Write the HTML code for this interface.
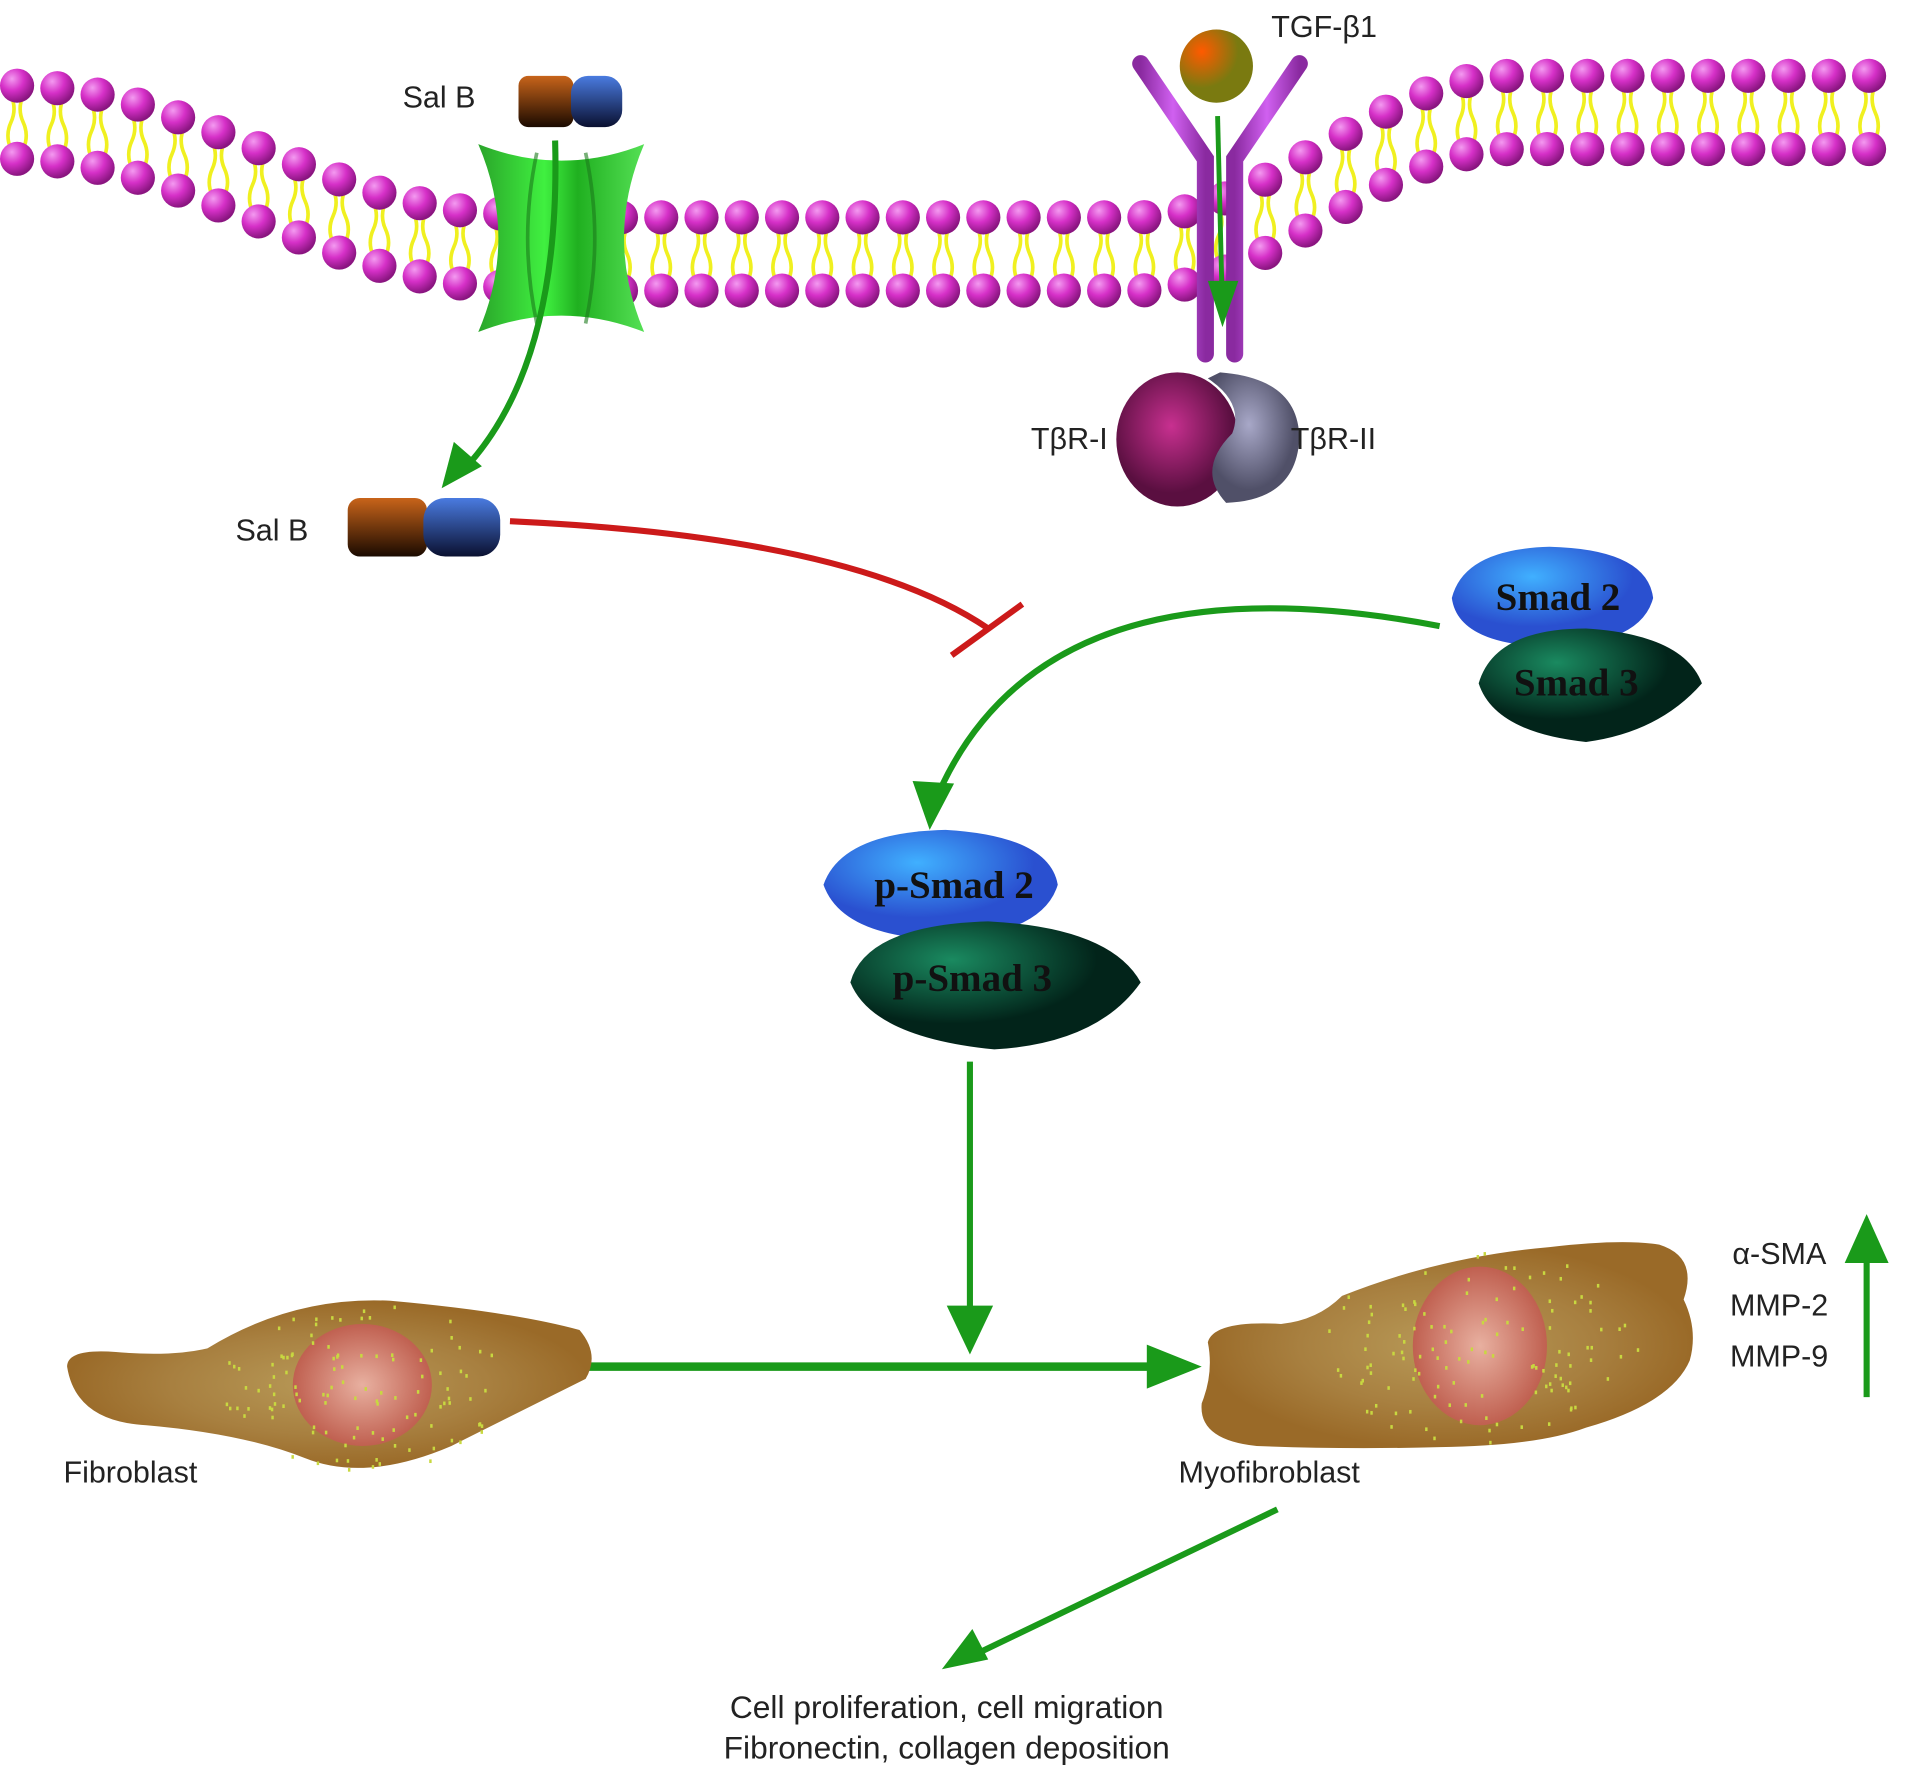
<!DOCTYPE html>
<html><head><meta charset="utf-8"><style>
html,body{margin:0;padding:0;background:#fff}
svg{display:block}
text{font-family:"Liberation Sans",sans-serif;fill:#222}
.b{font-family:"Liberation Serif",serif;font-weight:bold;fill:#111}
</style></head><body>
<svg id="s" width="1913" height="1778" viewBox="0 0 1568 1457" xmlns="http://www.w3.org/2000/svg">
<defs>
<radialGradient id="bead" cx="35%" cy="30%" r="70%"><stop offset="0" stop-color="#f39af0"/><stop offset="0.5" stop-color="#d630c8"/><stop offset="1" stop-color="#8a1580"/></radialGradient>
<linearGradient id="ch" x1="0" x2="1"><stop offset="0" stop-color="#2aa52a"/><stop offset="0.4" stop-color="#40f040"/><stop offset="0.6" stop-color="#20b020"/><stop offset="1" stop-color="#55e055"/></linearGradient>
<linearGradient id="pillL" x1="0" y1="0" x2="0" y2="1"><stop offset="0" stop-color="#c8641a"/><stop offset="1" stop-color="#1a0a00"/></linearGradient>
<linearGradient id="pillR" x1="0" y1="0" x2="0" y2="1"><stop offset="0" stop-color="#4a7be0"/><stop offset="1" stop-color="#0a1030"/></linearGradient>
<radialGradient id="tgf" cx="30%" cy="30%"><stop offset="0" stop-color="#ff5a00"/><stop offset="1" stop-color="#7a7a10"/></radialGradient>
<linearGradient id="rec" x1="0" x2="1"><stop offset="0" stop-color="#8a2aa0"/><stop offset="0.5" stop-color="#d060f0"/><stop offset="1" stop-color="#8a2aa0"/></linearGradient>
<radialGradient id="r1" cx="45%" cy="40%"><stop offset="0" stop-color="#c83090"/><stop offset="1" stop-color="#5a0f40"/></radialGradient>
<radialGradient id="r2" cx="45%" cy="40%"><stop offset="0" stop-color="#a8a8c8"/><stop offset="1" stop-color="#505068"/></radialGradient>
<radialGradient id="sb" cx="40%" cy="30%"><stop offset="0" stop-color="#40b0ff"/><stop offset="1" stop-color="#2a50d0"/></radialGradient>
<radialGradient id="sg" cx="35%" cy="30%"><stop offset="0" stop-color="#1a8a60"/><stop offset="1" stop-color="#02241a"/></radialGradient>
<radialGradient id="cell" cx="50%" cy="50%"><stop offset="0" stop-color="#b89a58"/><stop offset="0.6" stop-color="#a88040"/><stop offset="1" stop-color="#9a6a28"/></radialGradient>
<radialGradient id="nuc" cx="50%" cy="50%"><stop offset="0" stop-color="#e8b0a0"/><stop offset="1" stop-color="#c06050"/></radialGradient>
</defs>
<g id="mem"></g>
<path d="M392,118 Q460,145 528,118 Q495,195 528,272 Q460,245 392,272 Q425,195 392,118 Z" fill="url(#ch)"/>
<path d="M440,125 Q425,195 440,265 M480,125 Q495,195 480,265" stroke="#1a7a1a" stroke-width="3" fill="none" opacity="0.6"/>
<g stroke="url(#rec)" stroke-width="14" stroke-linecap="round" fill="none">
<path d="M935,52 L988,130 L988,290"/><path d="M1065,52 L1012,130 L1012,290"/>
</g>
<circle cx="997" cy="54" r="30" fill="url(#tgf)"/>
<ellipse cx="965" cy="360" rx="50" ry="55" fill="url(#r1)"/>
<path d="M1000,305 Q1065,310 1065,360 Q1062,410 1005,412 Q980,385 1010,355 Q1020,330 990,310 Z" fill="url(#r2)"/>
<rect x="425" y="62" width="45" height="42" rx="8" fill="url(#pillL)"/><rect x="468" y="62" width="42" height="42" rx="14" fill="url(#pillR)"/>
<rect x="285" y="408" width="65" height="48" rx="10" fill="url(#pillL)"/><rect x="347" y="408" width="63" height="48" rx="18" fill="url(#pillR)"/>
<text x="330" y="88" font-size="25">Sal B</text>
<text x="193" y="443" font-size="25">Sal B</text>
<text x="1042" y="30" font-size="25">TGF-β1</text>
<text x="845" y="368" font-size="25">TβR-I</text>
<text x="1058" y="368" font-size="25">TβR-II</text>
<g fill="none" stroke="#1a9a1a" stroke-width="5">
<path d="M998,95 L1002,255" stroke-width="4"/>
<path d="M455,115 Q460,300 380,385"/>
<path d="M1180,513 Q850,450 765,660"/>
<path d="M795,870 L795,1085"/>
<path d="M480,1120 L960,1120" stroke-width="7"/>
<path d="M1530,1145 L1530,1030"/>
<path d="M1047,1237 L795,1358"/>
</g>
<g fill="#1a9a1a">
<path d="M990,230 L1015,230 L1002,268 Z"/>
<path d="M362,400 L372,362 L395,382 Z"/>
<path d="M748,640 L782,642 L762,680 Z"/>
<path d="M776,1070 L814,1070 L795,1110 Z"/>
<path d="M940,1102 L985,1120 L940,1138 Z"/>
<path d="M1512,1035 L1530,995 L1548,1035 Z"/>
<path d="M772,1368 L797,1335 L810,1360 Z"/>
</g>
<path d="M418,427 Q700,440 810,515" fill="none" stroke="#cc1a1a" stroke-width="5"/>
<path d="M780,537 L838,495" stroke="#cc1a1a" stroke-width="5"/>
<path d="M1190,490 Q1200,450 1270,448 Q1350,450 1355,490 Q1345,528 1270,530 Q1195,528 1190,490 Z" fill="url(#sb)"/>
<path d="M1212,560 Q1225,515 1300,515 Q1380,520 1395,560 Q1360,600 1300,608 Q1225,600 1212,560 Z" fill="url(#sg)"/>
<text class="b" x="1277" y="500" font-size="32" text-anchor="middle">Smad 2</text>
<text class="b" x="1292" y="570" font-size="32" text-anchor="middle">Smad 3</text>
<path d="M675,725 Q690,682 775,680 Q860,685 867,725 Q855,765 775,770 Q690,768 675,725 Z" fill="url(#sb)"/>
<path d="M697,805 Q710,758 810,755 Q910,760 935,805 Q900,855 815,860 Q715,850 697,805 Z" fill="url(#sg)"/>
<text class="b" x="782" y="736" font-size="32" text-anchor="middle">p-Smad 2</text>
<text class="b" x="797" y="812" font-size="32" text-anchor="middle">p-Smad 3</text>
<path d="M55,1120 Q55,1105 95,1108 Q140,1112 170,1105 Q240,1062 320,1066 Q420,1075 475,1090 Q492,1110 480,1130 Q420,1160 370,1185 Q300,1215 250,1195 Q200,1175 120,1168 Q62,1165 55,1120 Z" fill="url(#cell)"/>
<ellipse cx="297" cy="1135" rx="57" ry="50" fill="url(#nuc)"/>
<path d="M990,1100 Q995,1082 1050,1085 Q1080,1082 1100,1062 Q1180,1030 1270,1022 Q1330,1015 1360,1020 Q1392,1030 1380,1065 Q1392,1090 1385,1115 Q1370,1150 1300,1170 Q1260,1185 1180,1186 Q1100,1188 1030,1185 Q982,1180 985,1150 Q995,1125 990,1100 Z" fill="url(#cell)"/>
<ellipse cx="1213" cy="1103" rx="55" ry="65" fill="url(#nuc)"/>
<g id="dots" fill="#c8d840"></g>
<text x="52" y="1215" font-size="25">Fibroblast</text>
<text x="966" y="1215" font-size="25">Myofibroblast</text>
<text x="1420" y="1036" font-size="25">α-SMA</text>
<text x="1418" y="1078" font-size="25">MMP-2</text>
<text x="1418" y="1120" font-size="25">MMP-9</text>
<text x="776" y="1408" font-size="26" text-anchor="middle">Cell proliferation, cell migration</text>
<text x="776" y="1441" font-size="26" text-anchor="middle">Fibronectin, collagen deposition</text>
</svg>
<script>
(function(){
function cy(x){
 if(x<420){var t=(x-10)/410;return 100+105*(1-Math.cos(Math.PI*t))/2;}
 if(x<930)return 208;
 if(x<1240){var t=(x-930)/310;return 208-116*(1-Math.cos(Math.PI*t))/2;}
 return 92;}
var g=document.getElementById('mem'),h='';
for(var x=14;x<1562;x+=33){
 var c=cy(x);
 h+='<path d="M'+(x-5)+','+(c-22)+' q5,11 0,22 q-5,11 0,22 M'+(x+5)+','+(c-22)+' q-5,11 0,22 q5,11 0,22" stroke="#f0f020" stroke-width="3" fill="none"/>';
}
for(var x=14;x<1562;x+=33){
 var c=cy(x);
 h+='<circle cx="'+x+'" cy="'+(c-30)+'" r="14" fill="url(#bead)"/><circle cx="'+x+'" cy="'+(c+30)+'" r="14" fill="url(#bead)"/>';
}
g.innerHTML=h;
var d='',s=7;
function r(){s=(s*9301+49297)%233280;return s/233280;}
function sp(cx,cy,rx,ry,n){for(var i=0;i<n;i++){var a=r()*6.283,q=Math.sqrt(r());d+='<rect x="'+(cx+Math.cos(a)*q*rx).toFixed(1)+'" y="'+(cy+Math.sin(a)*q*ry).toFixed(1)+'" width="2" height="3"/>';}}
sp(297,1135,115,70,110);sp(1213,1103,130,80,120);
document.getElementById('dots').innerHTML=d;
})();
</script>
</body></html>
